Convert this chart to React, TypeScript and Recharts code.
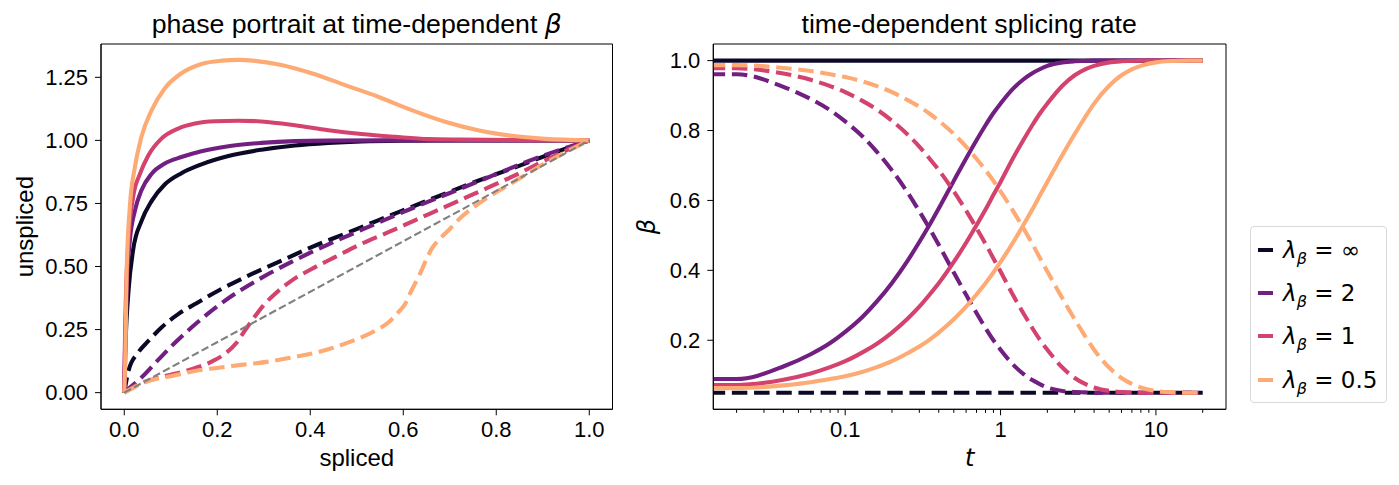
import { LineChart, Line, XAxis, YAxis, Legend, CartesianGrid } from "recharts";

const FONT = "'Liberation Sans', Arial, sans-serif";
const MATH_FONT = "'DejaVu Sans', sans-serif";

const COLORS = ["#0c0927", "#711f81", "#d3436e", "#feaa74"];
const LAMBDA_LABELS = ["∞", "2", "1", "0.5"];

// left panel: phase portrait, [spliced, unspliced]
const PHASE_INF_SOLID = [
  [0, 0], [0.003, 0.205], [0.009, 0.4], [0.019, 0.565], [0.037, 0.68], [0.059, 0.76],
  [0.087, 0.825], [0.123, 0.87], [0.166, 0.905], [0.224, 0.938], [0.295, 0.963],
  [0.367, 0.98], [0.439, 0.99], [0.51, 0.996], [0.6, 0.999], [0.7, 1.0], [1, 1],
];
const PHASE_INF_DASHED = [
  [0, 0], [0.009, 0.086], [0.03, 0.159], [0.052, 0.205], [0.08, 0.258], [0.116, 0.311],
  [0.152, 0.351], [0.202, 0.404], [0.259, 0.457], [0.331, 0.517], [0.403, 0.577],
  [0.475, 0.63], [0.546, 0.683], [0.618, 0.736], [0.69, 0.789], [0.761, 0.84],
  [0.833, 0.888], [0.905, 0.938], [1, 1],
];
const PHASE_2_SOLID = [
  [0, 0], [0.002, 0.2], [0.005, 0.404], [0.012, 0.603], [0.023, 0.722], [0.037, 0.802],
  [0.059, 0.868], [0.087, 0.908], [0.123, 0.934], [0.166, 0.957], [0.224, 0.977],
  [0.295, 0.99], [0.367, 0.997], [0.439, 0.999], [0.582, 1.0], [1, 1],
];
const PHASE_2_DASHED = [
  [0, 0], [0.009, 0.015], [0.037, 0.06], [0.073, 0.13], [0.113, 0.205], [0.152, 0.27],
  [0.202, 0.345], [0.245, 0.4], [0.295, 0.455], [0.367, 0.525], [0.439, 0.588],
  [0.51, 0.645], [0.582, 0.702], [0.654, 0.757], [0.725, 0.81], [0.797, 0.864],
  [0.869, 0.918], [1, 1],
];
const PHASE_1_SOLID = [
  [0, 0], [0.001, 0.15], [0.003, 0.338], [0.009, 0.603], [0.019, 0.775], [0.034, 0.868],
  [0.052, 0.941], [0.08, 1.007], [0.116, 1.047], [0.152, 1.067], [0.195, 1.076],
  [0.245, 1.078], [0.295, 1.075], [0.367, 1.06], [0.439, 1.04], [0.51, 1.025],
  [0.582, 1.014], [0.654, 1.005], [0.725, 1.003], [0.85, 1.001], [1, 1],
];
const PHASE_1_DASHED = [
  [0, 0], [0.03, 0.033], [0.08, 0.062], [0.138, 0.089], [0.188, 0.123], [0.22, 0.159],
  [0.242, 0.199], [0.259, 0.245], [0.277, 0.292], [0.299, 0.345], [0.324, 0.391],
  [0.36, 0.444], [0.403, 0.49], [0.453, 0.537], [0.51, 0.59], [0.568, 0.636],
  [0.625, 0.683], [0.69, 0.736], [0.761, 0.795], [0.833, 0.855], [0.905, 0.921], [1, 1],
];
const PHASE_05_SOLID = [
  [0, 0], [0.003, 0.205], [0.005, 0.47], [0.012, 0.736], [0.023, 0.895], [0.037, 1.014],
  [0.059, 1.12], [0.087, 1.206], [0.123, 1.266], [0.166, 1.303], [0.209, 1.316],
  [0.245, 1.319], [0.281, 1.315], [0.338, 1.299], [0.403, 1.266], [0.475, 1.219],
  [0.546, 1.173], [0.618, 1.12], [0.69, 1.074], [0.761, 1.04], [0.833, 1.018],
  [0.905, 1.006], [1, 1],
];
const PHASE_05_DASHED = [
  [0, 0], [0.052, 0.046], [0.102, 0.066], [0.152, 0.086], [0.195, 0.097], [0.252, 0.11],
  [0.31, 0.123], [0.36, 0.139], [0.396, 0.152], [0.439, 0.172], [0.482, 0.199],
  [0.51, 0.219], [0.546, 0.252], [0.568, 0.278], [0.589, 0.318], [0.604, 0.351],
  [0.614, 0.391], [0.625, 0.431], [0.636, 0.471], [0.647, 0.517], [0.661, 0.57],
  [0.682, 0.616], [0.697, 0.643], [0.725, 0.696], [0.747, 0.729], [0.783, 0.775],
  [0.819, 0.815], [0.855, 0.855], [0.897, 0.901], [1, 1],
];
const DIAGONAL = [[0, 0], [1, 1]];

const S_TICKS = [0, 0.2, 0.4, 0.6, 0.8, 1];
const U_TICKS = [0, 0.25, 0.5, 0.75, 1, 1.25];

// right panel: beta(t). first t stands in for t = 0 (clipped at the left edge of the log axis)
const T = [
  0.005, 0.02, 0.04, 0.06, 0.08, 0.1, 0.13, 0.16, 0.2, 0.25, 0.3, 0.35, 0.4, 0.5, 0.6, 0.7,
  0.8, 0.9, 1, 1.2, 1.4, 1.6, 1.8, 2, 2.5, 3, 3.5, 4, 5, 6, 7, 8, 10, 13, 16, 20,
];
const BETA_INF_UP = [
  1, 1, 1, 1, 1, 1, 1, 1, 1, 1, 1, 1, 1, 1, 1, 1, 1, 1,
  1, 1, 1, 1, 1, 1, 1, 1, 1, 1, 1, 1, 1, 1, 1, 1, 1, 1,
];
const BETA_INF_DOWN = [
  0.05, 0.05, 0.05, 0.05, 0.05, 0.05, 0.05, 0.05, 0.05, 0.05, 0.05, 0.05, 0.05, 0.05, 0.05, 0.05, 0.05, 0.05,
  0.05, 0.05, 0.05, 0.05, 0.05, 0.05, 0.05, 0.05, 0.05, 0.05, 0.05, 0.05, 0.05, 0.05, 0.05, 0.05, 0.05, 0.05,
];
const BETA_2_UP = [
  0.089, 0.089, 0.125, 0.16, 0.192, 0.224, 0.268, 0.311, 0.364, 0.425, 0.481, 0.531,
  0.577, 0.656, 0.72, 0.772, 0.815, 0.85, 0.877, 0.919, 0.946, 0.964, 0.976, 0.985,
  0.995, 0.998, 0.999, 1, 1, 1, 1, 1, 1, 1, 1, 1,
];
const BETA_2_DOWN = [
  0.961, 0.961, 0.925, 0.89, 0.858, 0.826, 0.782, 0.739, 0.686, 0.625, 0.569, 0.519,
  0.473, 0.394, 0.33, 0.278, 0.235, 0.2, 0.173, 0.131, 0.104, 0.086, 0.074, 0.065,
  0.055, 0.052, 0.051, 0.05, 0.05, 0.05, 0.05, 0.05, 0.05, 0.05, 0.05, 0.05,
];
const BETA_1_UP = [
  0.072, 0.072, 0.087, 0.105, 0.123, 0.14, 0.166, 0.19, 0.222, 0.26, 0.296, 0.331,
  0.363, 0.424, 0.479, 0.529, 0.574, 0.616, 0.653, 0.72, 0.772, 0.815, 0.85, 0.877,
  0.928, 0.958, 0.975, 0.985, 0.995, 0.998, 0.999, 1, 1, 1, 1, 1,
];
const BETA_1_DOWN = [
  0.978, 0.978, 0.963, 0.945, 0.927, 0.91, 0.884, 0.86, 0.828, 0.79, 0.754, 0.719,
  0.687, 0.626, 0.571, 0.521, 0.476, 0.434, 0.397, 0.33, 0.278, 0.235, 0.2, 0.173,
  0.122, 0.092, 0.075, 0.065, 0.055, 0.052, 0.051, 0.05, 0.05, 0.05, 0.05, 0.05,
];
const BETA_05_UP = [
  0.063, 0.063, 0.071, 0.08, 0.089, 0.097, 0.11, 0.123, 0.14, 0.162, 0.182, 0.202,
  0.222, 0.26, 0.296, 0.331, 0.363, 0.394, 0.424, 0.479, 0.529, 0.574, 0.616, 0.653,
  0.73, 0.79, 0.838, 0.877, 0.928, 0.958, 0.975, 0.985, 0.995, 0.999, 1, 1,
];
const BETA_05_DOWN = [
  0.987, 0.987, 0.979, 0.97, 0.961, 0.953, 0.94, 0.927, 0.91, 0.888, 0.868, 0.848,
  0.828, 0.79, 0.754, 0.719, 0.687, 0.656, 0.626, 0.571, 0.521, 0.476, 0.434, 0.397,
  0.32, 0.26, 0.212, 0.173, 0.122, 0.092, 0.075, 0.065, 0.055, 0.051, 0.05, 0.05,
];

const T_MAJOR = [0.1, 1, 10];
const T_MINOR = [
  0.02, 0.03, 0.04, 0.05, 0.06, 0.07, 0.08, 0.09,
  0.2, 0.3, 0.4, 0.5, 0.6, 0.7, 0.8, 0.9,
  2, 3, 4, 5, 6, 7, 8, 9, 20,
];
const BETA_TICKS = [0.2, 0.4, 0.6, 0.8, 1.0];

const DASH = "15.5 6.7";
const LW = 4.1;

const toPoints = (pts: number[][]) => pts.map(([s, u]) => ({ s, u }));

const phaseSeries = [
  { key: "inf-solid", pts: PHASE_INF_SOLID, color: COLORS[0], dashed: false },
  { key: "inf-dashed", pts: PHASE_INF_DASHED, color: COLORS[0], dashed: true },
  { key: "2-solid", pts: PHASE_2_SOLID, color: COLORS[1], dashed: false },
  { key: "2-dashed", pts: PHASE_2_DASHED, color: COLORS[1], dashed: true },
  { key: "1-solid", pts: PHASE_1_SOLID, color: COLORS[2], dashed: false },
  { key: "1-dashed", pts: PHASE_1_DASHED, color: COLORS[2], dashed: true },
  { key: "05-solid", pts: PHASE_05_SOLID, color: COLORS[3], dashed: false },
  { key: "05-dashed", pts: PHASE_05_DASHED, color: COLORS[3], dashed: true },
];

const betaData = T.map((t, i) => ({
  t,
  infUp: BETA_INF_UP[i],
  infDown: BETA_INF_DOWN[i],
  up2: BETA_2_UP[i],
  down2: BETA_2_DOWN[i],
  up1: BETA_1_UP[i],
  down1: BETA_1_DOWN[i],
  up05: BETA_05_UP[i],
  down05: BETA_05_DOWN[i],
}));

const betaSeries = [
  { key: "infUp", color: COLORS[0], dashed: false },
  { key: "infDown", color: COLORS[0], dashed: true },
  { key: "up2", color: COLORS[1], dashed: false },
  { key: "down2", color: COLORS[1], dashed: true },
  { key: "up1", color: COLORS[2], dashed: false },
  { key: "down1", color: COLORS[2], dashed: true },
  { key: "up05", color: COLORS[3], dashed: false },
  { key: "down05", color: COLORS[3], dashed: true },
];

const tickStyle = { fill: "#000", fontSize: 22, fontFamily: FONT };

// full box around the plot area, like matplotlib spines
const frameH = ({ offset }: any) => [offset.top, offset.top + offset.height];
const frameV = ({ offset }: any) => [offset.left, offset.left + offset.width];

function xLabel(text: string, math: boolean) {
  return ({ viewBox }: any) => (
    <text
      x={viewBox.x + viewBox.width / 2}
      y={viewBox.y + 57}
      textAnchor="middle"
      fontSize={24}
      fontFamily={math ? MATH_FONT : FONT}
      fontStyle={math ? "italic" : "normal"}
      fill="#000"
    >
      {text}
    </text>
  );
}

function yLabel(text: string, math: boolean, dx: number) {
  return ({ viewBox }: any) => {
    const cx = viewBox.x + dx;
    const cy = viewBox.y + viewBox.height / 2;
    return (
      <text
        x={cx}
        y={cy}
        transform={`rotate(-90, ${cx}, ${cy})`}
        textAnchor="middle"
        dominantBaseline="central"
        fontSize={24}
        fontFamily={math ? MATH_FONT : FONT}
        fontStyle={math ? "italic" : "normal"}
        fill="#000"
      >
        {text}
      </text>
    );
  };
}

const renderLogTick = (props: any) => {
  const { x, y, payload } = props;
  const major = T_MAJOR.includes(payload.value);
  return (
    <g>
      <line x1={x} x2={x} y1={y} y2={y + (major ? 6 : 3.5)} stroke="#000" strokeWidth={1} />
      {major && (
        <text x={x} y={y + 12} dy="0.71em" textAnchor="middle" {...tickStyle}>
          {String(payload.value)}
        </text>
      )}
    </g>
  );
};

const renderLegend = () => (
  <div
    style={{
      boxSizing: "border-box",
      width: 137,
      height: 177,
      border: "1px solid #d9d9d9",
      borderRadius: 4,
      background: "#fff",
      paddingTop: 1,
      fontFamily: MATH_FONT,
      fontSize: 23,
      color: "#000",
    }}
  >
    {LAMBDA_LABELS.map((lab, i) => (
      <div key={lab} style={{ display: "flex", alignItems: "center", height: 43.4 }}>
        <span
          style={{ display: "inline-block", width: 15, height: 4, background: COLORS[i], marginLeft: 7, marginRight: 10 }}
        />
        <span style={{ whiteSpace: "nowrap" }}>
          <i>λ</i>
          <sub style={{ fontSize: "0.7em", lineHeight: 0 }}>
            <i>β</i>
          </sub>
          {" = " + lab}
        </span>
      </div>
    ))}
  </div>
);

const titleStyle = {
  position: "absolute" as const,
  top: 11,
  fontFamily: FONT,
  fontSize: 26.7,
  lineHeight: "26.7px",
  textAlign: "center" as const,
  color: "#000",
  whiteSpace: "nowrap" as const,
};

export default function App() {
  return (
    <div style={{ position: "absolute", left: 0, top: 0, width: 1399, height: 485, background: "#fff" }}>
      <div style={{ position: "absolute", left: 0, top: 0 }}>
        <LineChart width={640} height={485} margin={{ top: 44, right: 27.5, bottom: 25.7, left: 41 }}>
          <CartesianGrid
            stroke="#000"
            strokeWidth={1}
            horizontalCoordinatesGenerator={frameH}
            verticalCoordinatesGenerator={frameV}
          />
          <XAxis
            type="number"
            dataKey="s"
            domain={[-0.05, 1.05]}
            allowDataOverflow
            ticks={S_TICKS}
            tickFormatter={(v) => v.toFixed(1)}
            tick={tickStyle}
            tickSize={6}
            tickMargin={6}
            stroke="#000"
            height={50}
            label={{ content: xLabel("spliced", false) }}
          />
          <YAxis
            type="number"
            domain={[-0.066, 1.382]}
            allowDataOverflow
            ticks={U_TICKS}
            tickFormatter={(v) => v.toFixed(2)}
            tick={tickStyle}
            tickSize={6}
            tickMargin={7}
            stroke="#000"
            width={60}
            label={{ content: yLabel("unspliced", false, -16) }}
          />
          {phaseSeries.map((p) => (
            <Line
              key={p.key}
              data={toPoints(p.pts)}
              dataKey="u"
              type="monotone"
              stroke={p.color}
              strokeWidth={LW}
              strokeDasharray={p.dashed ? DASH : undefined}
              dot={false}
              activeDot={false}
              isAnimationActive={false}
            />
          ))}
          <Line
            data={toPoints(DIAGONAL)}
            dataKey="u"
            type="linear"
            stroke="#808080"
            strokeWidth={2.1}
            strokeDasharray="7.7 3.3"
            dot={false}
            activeDot={false}
            isAnimationActive={false}
          />
        </LineChart>
      </div>
      <div style={{ ...titleStyle, left: 101, width: 511.5 }}>
        phase portrait at time-dependent{" "}
        <span style={{ fontFamily: MATH_FONT, fontStyle: "italic" }}>β</span>
      </div>

      <div style={{ position: "absolute", left: 620, top: 0 }}>
        <LineChart width={779} height={485} data={betaData} margin={{ top: 44, right: 36, bottom: 25.7, left: 33.3 }}>
          <CartesianGrid
            stroke="#000"
            strokeWidth={1}
            horizontalCoordinatesGenerator={frameH}
            verticalCoordinatesGenerator={frameV}
          />
          <XAxis
            type="number"
            dataKey="t"
            scale="log"
            domain={[0.01416, 28.25]}
            allowDataOverflow
            ticks={[...T_MINOR, ...T_MAJOR].sort((a, b) => a - b)}
            interval={0}
            tick={renderLogTick}
            tickLine={false}
            tickSize={0}
            tickMargin={0}
            stroke="#000"
            height={50}
            label={{ content: xLabel("t", true) }}
          />
          <YAxis
            type="number"
            domain={[0.0025, 1.0475]}
            allowDataOverflow
            ticks={BETA_TICKS}
            tickFormatter={(v) => v.toFixed(1)}
            tick={tickStyle}
            tickSize={6}
            tickMargin={7}
            stroke="#000"
            width={60}
            label={{ content: yLabel("β", true, -6.6) }}
          />
          {betaSeries.map((b) => (
            <Line
              key={b.key}
              dataKey={b.key}
              type="monotone"
              stroke={b.color}
              strokeWidth={LW}
              strokeDasharray={b.dashed ? DASH : undefined}
              dot={false}
              activeDot={false}
              isAnimationActive={false}
            />
          ))}
          <Legend
            layout="horizontal"
            verticalAlign="middle"
            align="right"
            wrapperStyle={{ left: 630, top: 226, width: 137, height: 177 }}
            content={renderLegend}
          />
        </LineChart>
      </div>
      <div style={{ ...titleStyle, left: 713.3, width: 511.7 }}>time-dependent splicing rate</div>
    </div>
  );
}
